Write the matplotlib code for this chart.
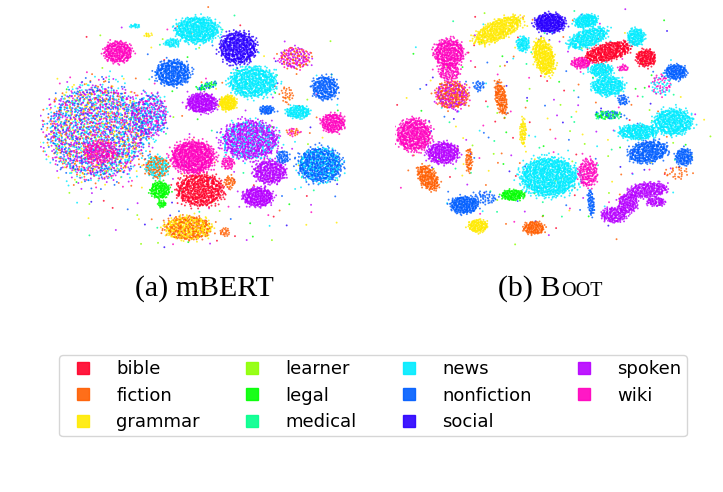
import numpy as np
import matplotlib
matplotlib.use("Agg")
import matplotlib.pyplot as plt
from matplotlib.lines import Line2D

# ---------------- data ----------------
categories = ["bible", "fiction", "grammar", "learner", "legal", "medical",
              "news", "nonfiction", "social", "spoken", "wiki"]
ALL = "+".join(categories)

# cluster descriptors (image-pixel coordinates)
# left panel: mBERT
L_x   = [97, 150, 100, 118, 135, 148, 197, 172, 238, 295, 173, 253, 207, 325, 287, 202, 228, 267, 298, 333,
         250, 293, 193, 228, 157, 320, 283, 270, 200, 230, 160, 162, 258, 188, 225, 200]
L_y   = [132, 115, 152, 52, 26, 35, 30, 43, 48, 58, 73, 82, 86, 88, 95, 103, 103, 110, 112, 123,
         140, 132, 157, 163, 167, 165, 157, 172, 190, 182, 190, 204, 197, 228, 232, 140]
L_rx  = [46, 16, 15, 13, 5, 4, 20, 7, 17, 15, 16, 22, 10, 12, 6, 14, 8, 7, 11, 11,
         26, 6, 20, 6, 11, 20, 6, 15, 22, 5, 9, 4, 14, 22, 5, 150]
L_ry  = [44, 20, 10, 10, 2, 2, 12, 4, 15, 10, 12, 14, 3, 11, 8, 9, 7, 4, 6, 9,
         18, 4, 15, 6, 10, 16, 6, 11, 15, 6, 8, 3, 9, 11, 4, 110]
L_ang = [0, 0, 0, 0, 0, 0, 0, 0, 0, 0, 0, 0, 15, 0, 0, 0, 0, 0, 0, 0,
         0, 0, 0, 0, 0, 0, 0, 0, 0, 0, 0, 0, 0, 0, 0, 0]
L_n   = [2400, 400, 200, 320, 20, 12, 640, 60, 600, 190, 460, 700, 60, 280, 30, 370, 190, 70, 170, 230,
         1000, 30, 820, 60, 240, 820, 60, 370, 640, 40, 190, 30, 350, 600, 25, 280]
L_cat = ["spoken+spoken+news+news+wiki+nonfiction+nonfiction+fiction+grammar",
         "spoken+wiki+news+nonfiction", "wiki", "wiki", "news", "grammar", "news", "news", "social",
         "wiki+fiction+spoken", "nonfiction", "news", "legal+medical+nonfiction", "nonfiction", "fiction",
         "spoken", "grammar", "nonfiction", "news", "wiki",
         "spoken+spoken+spoken+news", "fiction+wiki", "wiki", "wiki", "news+fiction",
         "nonfiction+nonfiction+nonfiction+news", "nonfiction", "spoken", "bible", "fiction",
         "legal", "legal", "spoken", "grammar+fiction", "fiction", ALL]

# right panel: Boot
R_x   = [498, 550, 586, 588, 636, 523, 544, 449, 449, 608, 646, 581, 601, 623, 676, 608, 661, 623, 452, 501,
         479, 608, 673, 638, 414, 443, 523, 469, 648, 684, 549, 588, 428, 678, 513, 464, 484, 591, 648, 628,
         614, 656, 478, 534, 550]
R_y   = [30, 23, 21, 38, 37, 44, 57, 53, 72, 52, 58, 63, 70, 68, 72, 86, 85, 100, 95, 98,
         86, 115, 122, 132, 135, 153, 132, 160, 152, 157, 177, 173, 178, 173, 195, 205, 198, 203, 190, 203,
         215, 202, 226, 228, 120]
R_rx  = [24, 14, 11, 19, 8, 6, 17, 14, 10, 22, 9, 9, 11, 5, 10, 15, 10, 5, 15, 16,
         5, 13, 18, 18, 16, 15, 12, 12, 18, 8, 26, 13, 13, 12, 11, 13, 12, 12, 18, 9,
         12, 9, 9, 10, 135]
R_ry  = [9, 9, 6, 8, 8, 7, 9, 13, 8, 8, 8, 5, 6, 3, 7, 9, 10, 5, 13, 5,
         5, 4, 12, 7, 15, 10, 3, 3, 10, 8, 18, 9, 8, 6, 5, 8, 6, 3, 7, 9,
         7, 4, 6, 6, 105]
R_ang = [25, 0, 10, 20, 0, 0, 105, 0, 0, 15, 0, 0, 0, 0, 0, 0, 0, 0, 0, 100,
         0, 0, 0, 0, 0, 0, 90, 90, 10, 0, 0, 90, -55, 0, 0, 0, 0, 95, 5, 0,
         0, 0, 0, 0, 0]
R_n   = [520, 420, 210, 380, 170, 100, 420, 420, 120, 470, 190, 100, 170, 25, 190, 330, 80, 40, 420, 170,
         30, 100, 520, 330, 560, 380, 70, 60, 420, 150, 1100, 190, 240, 30, 150, 280, 60, 70, 280, 190,
         190, 80, 150, 150, 340]
R_cat = ["grammar", "social", "news", "news", "news", "news", "grammar", "wiki", "wiki", "bible",
         "bible", "wiki", "news", "wiki", "nonfiction", "news", "news+wiki", "nonfiction",
         "fiction+fiction+spoken+wiki", "fiction", "nonfiction", "medical+legal+nonfiction", "news", "news",
         "wiki", "spoken", "grammar", "fiction", "nonfiction", "nonfiction", "news", "wiki", "fiction",
         "fiction", "legal", "nonfiction", "nonfiction", "nonfiction", "spoken", "spoken", "spoken", "spoken",
         "grammar", "fiction", ALL]

captions = ["(a) mBERT", "(b) B", "OOT"]

# ---------------- helpers ----------------
cmap = plt.get_cmap("gist_rainbow")
cat_colors = {c: cmap(i / (len(categories) - 1)) for i, c in enumerate(categories)}


def halton(i, b):
    f, r = 1.0, 0.0
    while i > 0:
        f /= b
        r += f * (i % b)
        i //= b
    return r


def build(xs, ys, rxs, rys, angs, ns, cats, start):
    px, py, pc = [], [], []
    idx = start
    order = sorted(range(len(xs)), key=lambda k: -rxs[k] * rys[k])
    for k in order:
        mix = cats[k].split("+")
        a = np.deg2rad(angs[k])
        for j in range(ns[k]):
            idx += 1
            u, v, w, m = halton(idx, 2), halton(idx, 3), halton(idx, 7), halton(idx, 5)
            r = np.sqrt(u) * (1 + 0.4 * w ** 3)
            th = 2 * np.pi * v
            ex, ey = r * np.cos(th) * rxs[k], r * np.sin(th) * rys[k]
            X = xs[k] + ex * np.cos(a) - ey * np.sin(a)
            Y = ys[k] - (ex * np.sin(a) + ey * np.cos(a))
            px.append(X)
            py.append(Y)
            pc.append(cat_colors[mix[int(m * len(mix)) % len(mix)]])
    return np.array(px), np.array(py), pc


W, H = 723, 492
fig = plt.figure(figsize=(W / 100, H / 100), dpi=100)


def add_px_axes(x0, y0, x1, y1):
    ax = fig.add_axes([x0 / W, 1 - y1 / H, (x1 - x0) / W, (y1 - y0) / H])
    ax.set_xlim(x0, x1)
    ax.set_ylim(y1, y0)
    ax.axis("off")
    return ax


axL = add_px_axes(40, 5, 355, 250)
axR = add_px_axes(395, 5, 723, 250)

x, y, c = build(L_x, L_y, L_rx, L_ry, L_ang, L_n, L_cat, 10)
axL.scatter(x, y, s=1.9, c=c, linewidths=0, alpha=0.8)
x, y, c = build(R_x, R_y, R_rx, R_ry, R_ang, R_n, R_cat, 50000)
axR.scatter(x, y, s=1.9, c=c, linewidths=0, alpha=0.8)

# captions
serif = ["Liberation Serif", "DejaVu Serif"]
base_y = 1 - 296 / H
fig.text(204 / W, base_y, captions[0], ha="center", va="baseline", fontsize=21.5, family=serif)
t1 = fig.text(0, base_y, captions[1], ha="left", va="baseline", fontsize=21.5, family=serif)
t2 = fig.text(0, base_y, captions[2], ha="left", va="baseline", fontsize=14.5, family=serif)
fig.canvas.draw()
rend = fig.canvas.get_renderer()
w1 = t1.get_window_extent(renderer=rend).width
w2 = t2.get_window_extent(renderer=rend).width
left = 550 - (w1 + w2 + 1) / 2
t1.set_x(left / W)
t2.set_x((left + w1 + 1) / W)

# legend
handles = [Line2D([], [], marker="s", linestyle="none", markersize=9, markerfacecolor=cat_colors[cname],
                  markeredgecolor=cat_colors[cname], alpha=0.9) for cname in categories]
leg = fig.legend(handles, categories, ncol=4, loc="upper left",
                 bbox_to_anchor=(59 / W, 1 - 355 / H), fontsize=13, frameon=True,
                 borderpad=0.3, handlelength=2.1, handletextpad=0.78, columnspacing=1.85,
                 labelspacing=0.46, borderaxespad=0)
leg.get_frame().set_edgecolor("#cccccc")
leg.get_frame().set_linewidth(1.0)

fig.savefig("out.png", dpi=100)
